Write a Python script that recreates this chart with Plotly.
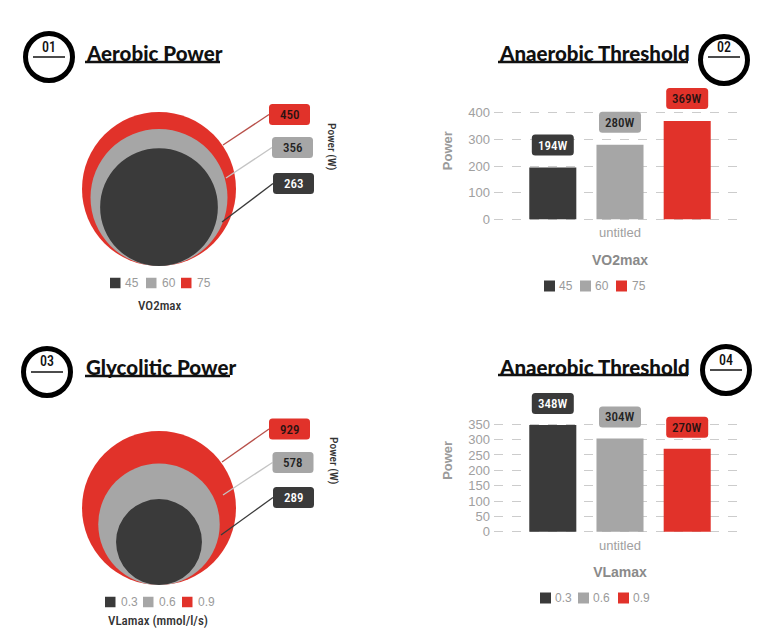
import math
import plotly.graph_objects as go

W, H = 768, 633
FIG_H = 633

# ---------------- data ----------------
aerobic_vo2max = ["45", "60", "75"]
aerobic_power = [263, 356, 450]
glyco_vlamax = ["0.3", "0.6", "0.9"]
glyco_power = [289, 578, 929]
at_vo2max = ["45", "60", "75"]
at_vo2_power = [194, 280, 369]
at_vlamax = ["0.3", "0.6", "0.9"]
at_vla_power = [348, 304, 270]
bar_category = ["untitled"]
vo2_ticks = [0, 100, 200, 300, 400]
vla_ticks = [0, 50, 100, 150, 200, 250, 300, 350]

# ---------------- style ----------------
COLORS = ["#3a3a3a", "#a6a6a6", "#e1322a"]
LABEL_TEXT = ["#ffffff", "#222222", "#2a1212"]
LINE_COLORS = ["#3a3a3a", "#c4c4c4", "#b8504a"]
TITLE_FONT = "Lato"
COND_FONT = "Roboto Condensed, DejaVu Sans Condensed, Liberation Sans Narrow, Roboto, sans-serif"
SANS = "Liberation Sans, Arial, sans-serif"
BARGAP = 0.2
BARGROUPGAP = 0.3

shapes = []
annotations = []


def cfont(size, color, weight="normal"):
    return dict(family=COND_FONT, size=size, color=color, weight=weight)


def rrect_path(x0, y0, x1, y1, r):
    return (f"M{x0 + r},{y0} L{x1 - r},{y0} Q{x1},{y0} {x1},{y0 + r} "
            f"L{x1},{y1 - r} Q{x1},{y1} {x1 - r},{y1} L{x0 + r},{y1} "
            f"Q{x0},{y1} {x0},{y1 - r} L{x0},{y0 + r} Q{x0},{y0} {x0 + r},{y0} Z")


def header(text, tx, ty, ux0, ux1, uy, bx, by, num, numy, liney):
    annotations.append(dict(xref="x", yref="y", x=tx, y=ty, text=text, showarrow=False,
                            xanchor="left", yanchor="middle",
                            font=dict(family=TITLE_FONT, size=20.5, color="#111111", weight=900)))
    shapes.append(dict(type="line", xref="x", yref="y", x0=ux0, x1=ux1, y0=uy, y1=uy,
                       line=dict(color="#111111", width=2.5)))
    r = 23.5
    shapes.append(dict(type="circle", xref="x", yref="y", x0=bx - r, x1=bx + r, y0=by - r, y1=by + r,
                       line=dict(color="#000000", width=5), fillcolor="rgba(0,0,0,0)"))
    shapes.append(dict(type="line", xref="x", yref="y", x0=bx - 16, x1=bx + 16, y0=liney, y1=liney,
                       line=dict(color="#111111", width=1.5)))
    annotations.append(dict(xref="x", yref="y", x=bx, y=numy, text=num, showarrow=False,
                            font=cfont(14, "#111111", 500)))


def legend_row(names, sq_x, txt_x, y, size, font_size):
    for i, n in enumerate(names):
        shapes.append(dict(type="rect", xref="x", yref="y", x0=sq_x[i], x1=sq_x[i] + size,
                           y0=y - size / 2, y1=y + size / 2, fillcolor=COLORS[i], line_width=0))
        annotations.append(dict(xref="x", yref="y", x=txt_x[i], y=y, text=n, showarrow=False,
                                xanchor="left", yanchor="middle",
                                font=dict(family=SANS, size=font_size, color="#9a9a9a")))


def circle_panel(values, names, cx, base, rmax, boxes, ends, power_pos, leg_sq, leg_txt, leg_y,
                 axis_label, axis_pos):
    vmax = max(values)
    for i in sorted(range(len(values)), key=lambda k: -values[k]):
        r = rmax * math.sqrt(values[i] / vmax)
        shapes.append(dict(type="circle", xref="x", yref="y", x0=cx - r, x1=cx + r,
                           y0=base - 2 * r, y1=base, fillcolor=COLORS[i], line_width=0))
    bw, bh = 41, 21
    for i, v in enumerate(values):
        bx, by = boxes[i]
        shapes.append(dict(type="line", xref="x", yref="y", x0=bx - bw / 2, y0=by, x1=ends[i][0], y1=ends[i][1],
                           line=dict(color=LINE_COLORS[i], width=1.3)))
        shapes.append(dict(type="path", xref="x", yref="y",
                           path=rrect_path(bx - bw / 2, by - bh / 2, bx + bw / 2, by + bh / 2, 3.5),
                           fillcolor=COLORS[i], line_width=0))
        annotations.append(dict(xref="x", yref="y", x=bx, y=by, text=str(v), showarrow=False,
                                font=cfont(13, LABEL_TEXT[i], 500)))
    annotations.append(dict(xref="x", yref="y", x=power_pos[0], y=power_pos[1], text="Power (W)",
                            showarrow=False, textangle=90, font=cfont(11.5, "#333333", 500)))
    legend_row(names, leg_sq, leg_txt, leg_y, 10.5, 12)
    annotations.append(dict(xref="x", yref="y", x=axis_pos[0], y=axis_pos[1], text=axis_label,
                            showarrow=False, font=cfont(13, "#333333", 500)))


def bar_panel(values, names, xa, ya, gap):
    n = len(values)
    slot = (1 - BARGAP) / n
    for i, v in enumerate(values):
        fig.add_trace(go.Bar(x=bar_category, y=[v], name=names[i], marker_color=COLORS[i],
                             marker_line_width=0, xaxis=xa, yaxis=ya, showlegend=False))
        xc = -(1 - BARGAP) / 2 + slot * (i + 0.5)
        bw, bh = 42, 21
        shapes.append(dict(type="path", xref=xa, yref=ya, xsizemode="pixel", ysizemode="pixel",
                           xanchor=xc, yanchor=v,
                           path=rrect_path(-bw / 2, gap, bw / 2, gap + bh, 3.5),
                           fillcolor=COLORS[i], line_width=0))
        annotations.append(dict(xref=xa, yref=ya, x=xc, y=v, yshift=gap + bh / 2, text=f"{v}W",
                                showarrow=False, yanchor="middle", font=cfont(13, LABEL_TEXT[i], 500)))


fig = go.Figure()
# invisible trace for the full-figure pixel overlay axis
fig.add_trace(go.Scatter(x=[None], y=[None], xaxis="x", yaxis="y", showlegend=False, hoverinfo="skip"))

# ---------- panel 1 ----------
header("Aerobic Power", 84, 53, 85, 220, 62, 49, 57, "01", 47, 57)
circle_panel(aerobic_power, aerobic_vo2max, 159, 266, 77,
             boxes=[(293.5, 183.5), (292.5, 147.5), (289.5, 114.5)],
             ends=[(222, 222), (226, 178), (223, 145)],
             power_pos=(332, 147), leg_sq=[110, 146, 181], leg_txt=[123, 160, 195], leg_y=283,
             axis_label="VO2max", axis_pos=(160, 305))

# ---------- panel 3 ----------
header("Glycolitic Power", 84, 367, 85, 230, 376, 47, 372, "03", 361, 372)
circle_panel(glyco_power, glyco_vlamax, 159, 585, 77,
             boxes=[(293.5, 497.5), (293, 462.5), (289.5, 429)],
             ends=[(221, 535), (223, 495), (222, 462)],
             power_pos=(334, 461), leg_sq=[105, 143, 182], leg_txt=[119, 157, 196], leg_y=602,
             axis_label="VLamax (mmol/l/s)", axis_pos=(158, 620))

# ---------- panel 2 ----------
header("Anaerobic Threshold", 497, 53, 498, 688, 62, 724, 60, "02", 47, 57)
bar_panel(at_vo2_power, at_vo2max, "x2", "y2", 12)
legend_row(at_vo2max, [544, 580, 616], [557, 593, 630], 286, 11, 12)

# ---------- panel 4 ----------
header("Anaerobic Threshold", 497, 367, 498, 688, 375, 726, 370, "04", 360, 370)
bar_panel(at_vla_power, at_vlamax, "x3", "y3", 11)
legend_row(at_vlamax, [540, 578, 618], [553, 591, 631], 598, 11, 12)

xdom = [494 / W, 746 / W]
common_x = dict(type="category", showgrid=False, zeroline=False, showline=False, ticks="",
                tickfont=dict(family=SANS, size=13, color="#a0a0a0"), fixedrange=True,
                range=[-0.5, 0.5], ticklabelstandoff=2, automargin=False)
common_y = dict(showgrid=True, gridcolor="#cccccc", griddash="dash", gridwidth=1, zeroline=False,
                showline=False, ticks="", tickfont=dict(family=SANS, size=13, color="#a0a0a0"),
                fixedrange=True, automargin=False, ticklabelstandoff=3)

y2_zero, y2_scale = 219.3, 106.6 / 400
y2_top = 80.0
y3_zero, y3_scale = 531.7, 107.4 / 350
y3_top = 387.0
pad = 2.0  # px below zero so the zero grid line is drawn

fig.update_layout(
    width=W, height=FIG_H, margin=dict(l=0, r=0, t=0, b=0, pad=0, autoexpand=False),
    paper_bgcolor="white", plot_bgcolor="rgba(0,0,0,0)",
    barmode="group", bargap=BARGAP, bargroupgap=BARGROUPGAP,
    showlegend=False,
    xaxis=dict(domain=[0, 1], range=[0, W], visible=False, fixedrange=True, automargin=False),
    yaxis=dict(domain=[0, 1], range=[FIG_H, 0], visible=False, fixedrange=True, automargin=False),
    xaxis2=dict(common_x, domain=xdom, anchor="y2",
                title=dict(text="VO2max", standoff=15,
                           font=dict(family=SANS, size=14, color="#8a8a8a", weight="bold"))),
    yaxis2=dict(common_y, anchor="x2",
                domain=[1 - (y2_zero + pad) / FIG_H, 1 - y2_top / FIG_H],
                range=[-pad / y2_scale, (y2_zero - y2_top) / y2_scale], tickvals=vo2_ticks,
                title=dict(text="Power", standoff=12,
                           font=dict(family=SANS, size=13, color="#9a9a9a", weight="bold"))),
    xaxis3=dict(common_x, domain=xdom, anchor="y3",
                title=dict(text="VLamax", standoff=15,
                           font=dict(family=SANS, size=14, color="#8a8a8a", weight="bold"))),
    yaxis3=dict(common_y, anchor="x3",
                domain=[1 - (y3_zero + pad) / FIG_H, 1 - y3_top / FIG_H],
                range=[-pad / y3_scale, (y3_zero - y3_top) / y3_scale], tickvals=vla_ticks,
                title=dict(text="Power", standoff=12,
                           font=dict(family=SANS, size=13, color="#9a9a9a", weight="bold"))),
    shapes=shapes,
    annotations=annotations,
)

fig.write_html("out.html")
